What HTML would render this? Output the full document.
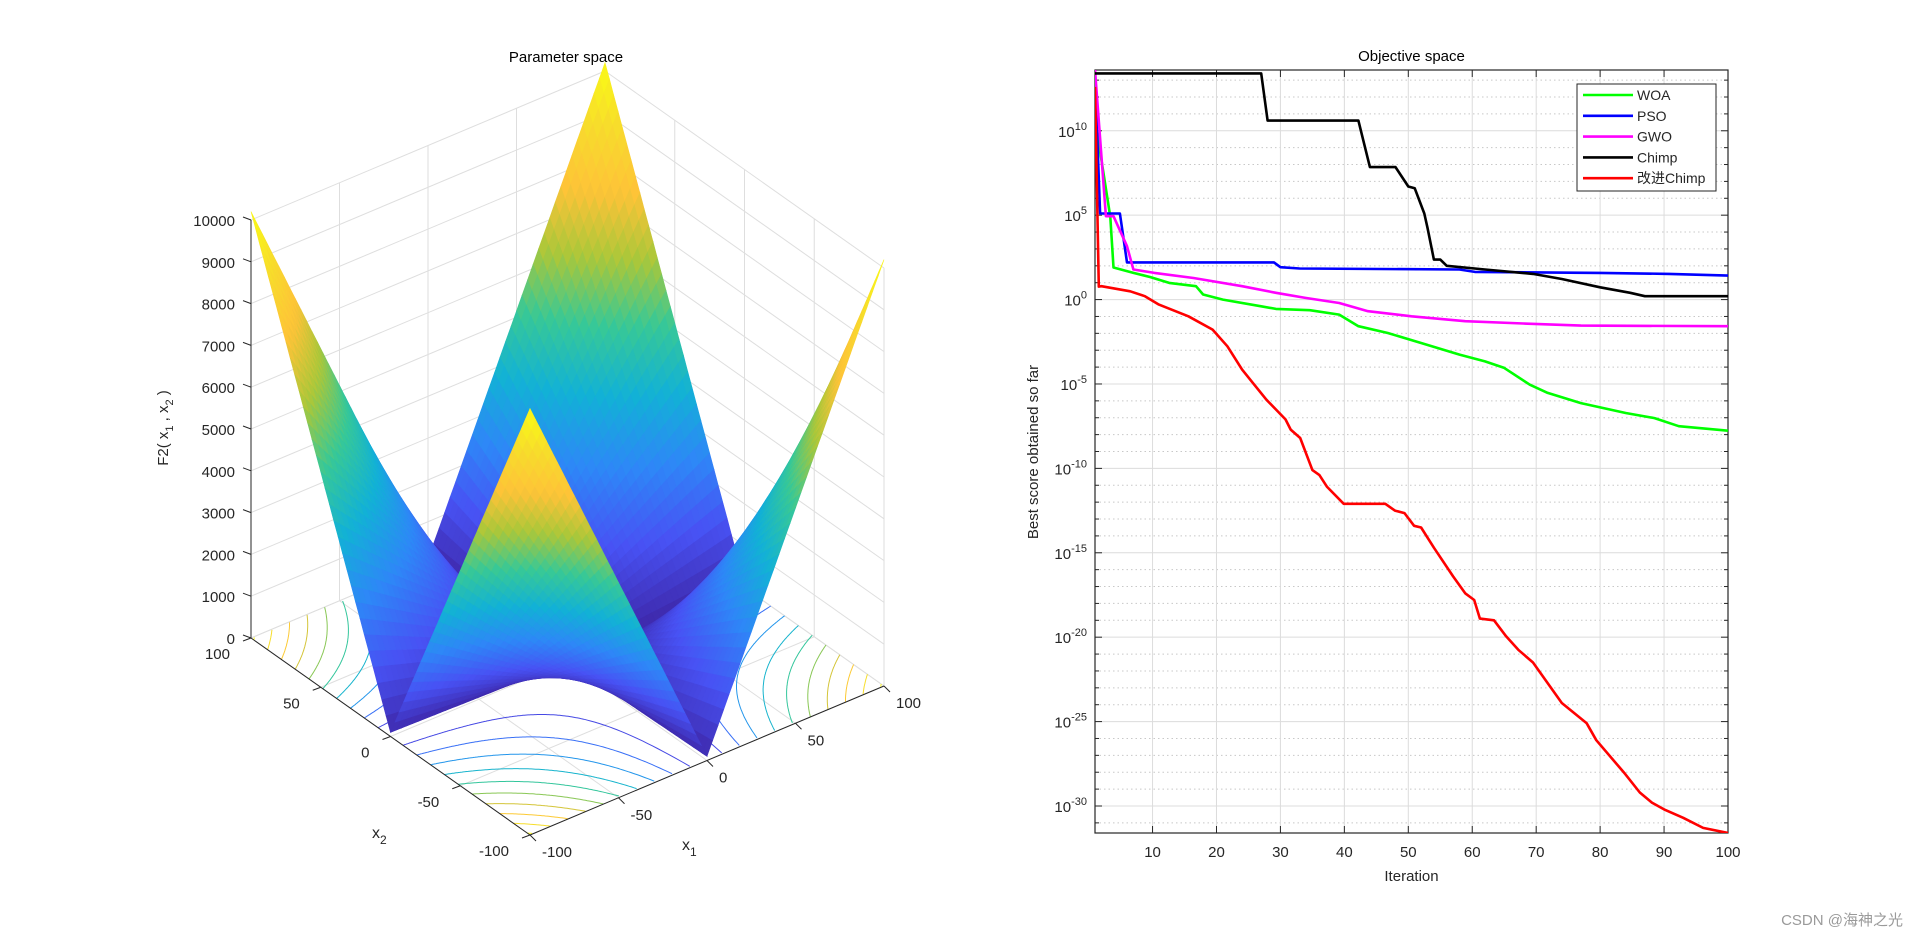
<!DOCTYPE html>
<html><head><meta charset="utf-8">
<style>
html,body{margin:0;padding:0;background:#fff;}
svg{display:block;font-family:"Liberation Sans","Noto Sans CJK SC",sans-serif;}
</style></head>
<body>
<svg id="root" width="1920" height="937" viewBox="0 0 1920 937" xmlns="http://www.w3.org/2000/svg">
<rect x="0" y="0" width="1920" height="937" fill="#fff"/>
<g id="left"></g>
<g id="right"></g>
<text x="1903" y="925" text-anchor="end" font-size="15" fill="#9a9a9a">CSDN @海神之光</text>
</svg>
<script>
// ---------- Objective space data (log10 of best score) ----------
const xTicks = [10,20,30,40,50,60,70,80,90,100];
const yTickExps = [-30,-25,-20,-15,-10,-5,0,5,10];
const seriesNames = ["WOA","PSO","GWO","Chimp","改进Chimp"];
const woaIter = [1,1.5,3.4,3.9,7,9.6,12.6,16.8,17.9,21,27,29.3,34.6,39.2,42.2,46.8,52,58,62,65,69,71.8,77,84,88.5,92.3,100];
const woaLog  = [10.6,9.5,4.9,1.9,1.58,1.34,0.99,0.79,0.3,0,-0.4,-0.55,-0.63,-0.89,-1.58,-1.98,-2.57,-3.26,-3.66,-4.05,-5.04,-5.53,-6.13,-6.72,-7.02,-7.5,-7.77];
const psoIter = [1,1.8,4.9,6,29,30,33,58,60.4,80,90.8,100];
const psoLog  = [13.2,5.1,5.1,2.2,2.2,1.92,1.84,1.78,1.64,1.58,1.52,1.42];
const gwoIter = [1,2.7,3.9,6,7,10.3,16.4,24,29.3,33.9,39.2,43.7,50.5,58.9,68,77,100];
const gwoLog  = [13.6,4.94,4.94,3.16,1.78,1.58,1.28,0.79,0.4,0.1,-0.2,-0.69,-0.99,-1.28,-1.42,-1.54,-1.58];
const chimpIter = [1,27,28,42.2,44,48,50,51,52.5,53,54,55,56,62,69.5,74,80,84.7,87,100];
const chimpLog  = [13.4,13.4,10.6,10.6,7.85,7.85,6.7,6.6,5.1,4.25,2.37,2.37,2.0,1.78,1.52,1.22,0.73,0.4,0.2,0.2];
const impIter = [1,1.6,2,6.5,8.8,11,15.6,19.4,21.7,24,27.8,30.8,31.6,33.1,35,36.1,37.3,39.9,46.4,47.9,49.4,50.9,52,54,57,58.9,60.3,61.2,63.4,65.3,67.2,69.5,74,77.9,79.4,83.9,86.2,88.1,90,93,96.1,100];
const impLog  = [12.6,0.77,0.79,0.49,0.2,-0.3,-0.99,-1.78,-2.77,-4.15,-5.93,-7.1,-7.7,-8.2,-10.1,-10.4,-11.1,-12.1,-12.1,-12.5,-12.65,-13.4,-13.5,-14.7,-16.4,-17.4,-17.8,-18.9,-19,-19.95,-20.75,-21.5,-23.9,-25.1,-26.1,-28.1,-29.2,-29.8,-30.2,-30.7,-31.3,-31.6];

// ---------- Parameter space data ----------
const zTicks = [0,1000,2000,3000,4000,5000,6000,7000,8000,9000,10000];
const x1Ticks = [-100,-50,0,50,100];
const x2Ticks = [-100,-50,0,50,100];
const contourLevels = [1000,2000,3000,4000,5000,6000,7000,8000,9000,10000];

const NS="http://www.w3.org/2000/svg";
function mk(tag, attrs, parent){const e=document.createElementNS(NS,tag);for(const k in attrs)e.setAttribute(k,attrs[k]);if(parent)parent.appendChild(e);return e;}

// ===== Objective space =====
(function(){
 const g=document.getElementById('right');
 const L=1095,R=1728,T=70,B=833;
 const yTop=13.6,yBot=-31.6;
 const X=i=>L+(i-1)/(99)*(R-L);
 const Y=v=>T+(yTop-v)/(yTop-yBot)*(B-T);
 // minor dotted grid
 for(let e=Math.ceil(yBot);e<=Math.floor(yTop);e++){
  if(e%5===0)continue;
  const l=mk('line',{x1:L,x2:R,y1:Y(e),y2:Y(e),stroke:'#c8c8c8','stroke-width':1,'stroke-dasharray':'1.5,3'},g);
  
  
  const t1=mk('line',{x1:L,x2:L+4,y1:Y(e),y2:Y(e),stroke:'#262626'},g);
  
  
  const t2=mk('line',{x1:R-4,x2:R,y1:Y(e),y2:Y(e),stroke:'#262626'},g);
  
  
 }
 yTickExps.forEach(e=>{
  const l=mk('line',{x1:L,x2:R,y1:Y(e),y2:Y(e),stroke:'#dcdcdc','stroke-width':1},g);
  
  
  const tk=mk('line',{x1:L,x2:L+7,y1:Y(e),y2:Y(e),stroke:'#262626'},g);
  
  
  const tk2=mk('line',{x1:R-7,x2:R,y1:Y(e),y2:Y(e),stroke:'#262626'},g);
  
  
  const t=mk('text',{x:1087,y:Y(e)+6,'text-anchor':'end','font-size':15,fill:'#262626'},g);
  
  
  const a=mk('tspan',{},t);a.textContent='10';
  const b=mk('tspan',{dy:-7,'font-size':11},t);b.textContent=String(e);
 });
 xTicks.forEach(v=>{
  const l=mk('line',{x1:X(v),x2:X(v),y1:T,y2:B,stroke:'#dcdcdc'},g);
  
  
  const tk=mk('line',{x1:X(v),x2:X(v),y1:B,y2:B-7,stroke:'#262626'},g);
  
  
  const tk2=mk('line',{x1:X(v),x2:X(v),y1:T,y2:T+7,stroke:'#262626'},g);
  
  
  const t=mk('text',{x:X(v),y:857,'text-anchor':'middle','font-size':15,fill:'#262626'},g);
  
  
  t.textContent=String(v);
 });
 const box=mk('rect',{x:L,y:T,width:R-L,height:B-T,fill:'none',stroke:'#262626','stroke-width':1.2},g);
 
 
 const defs=mk('defs',{},g);
 const cp=mk('clipPath',{id:'rc'},defs);
 mk('rect',{x:L,y:T,width:R-L,height:B-T},cp);
 const series=[[woaIter,woaLog,'#00ff00','woa-line'],[psoIter,psoLog,'#0000ff','pso-line'],[gwoIter,gwoLog,'#ff00ff','gwo-line'],[chimpIter,chimpLog,'#000000','chimp-line'],[impIter,impLog,'#ff0000','improved-chimp-line']];
 series.forEach(s=>{
  const d=s[0].map((it,k)=>(k?'L':'M')+X(it).toFixed(1)+','+Y(s[1][k]).toFixed(1)).join(' ');
  const p=mk('path',{d:d,fill:'none',stroke:s[2],'stroke-width':2.6,'stroke-linejoin':'round','clip-path':'url(#rc)'},g);
  
  
 });
 // legend
 const lg=mk('g',{},g);
 
 
 mk('rect',{x:1577,y:84,width:139,height:107,fill:'#fff',stroke:'#262626','stroke-width':1},lg);
 const cols=['#00ff00','#0000ff','#ff00ff','#000000','#ff0000'];
 seriesNames.forEach((n,k)=>{
  const y=95+k*20.8;
  const e=mk('g',{},lg);
  
  
  mk('line',{x1:1583,x2:1633,y1:y,y2:y,stroke:cols[k],'stroke-width':2.6},e);
  const t=mk('text',{x:1637,y:y+5,'font-size':14,fill:'#262626'},e);t.textContent=n;
 });
 const ti=mk('text',{x:(L+R)/2,y:61,'text-anchor':'middle','font-size':15,fill:'#000'},g);
 
 
 ti.textContent='Objective space';
 const xl=mk('text',{x:(L+R)/2,y:881,'text-anchor':'middle','font-size':15,fill:'#262626'},g);
 
 
 xl.textContent='Iteration';
 const yl=mk('text',{x:0,y:0,'text-anchor':'middle','font-size':15,fill:'#262626',transform:'translate(1038,452) rotate(-90)'},g);
 
 
 yl.textContent='Best score obtained so far';
})();

// ===== Parameter space =====
(function(){
 const g=document.getElementById('left');
 const C=[567.5,662], A=[1.77,-0.745], Bv=[-1.395,-0.985], cz=-0.0418;
 const P=(x1,x2,z)=>[C[0]+A[0]*x1+Bv[0]*x2, C[1]+A[1]*x1+Bv[1]*x2+cz*z];
 const F=(x1,x2)=>Math.abs(x1)+Math.abs(x2)+Math.abs(x1*x2);
 const par=[[0,[62,39,168]],[0.125,[72,82,244]],[0.25,[46,135,247]],[0.375,[18,177,214]],[0.5,[55,200,151]],[0.625,[171,199,57]],[0.75,[254,195,56]],[0.875,[247,220,44]],[1,[249,251,21]]];
 const col=t=>{t=Math.max(0,Math.min(1,t));for(let i=1;i<par.length;i++){if(t<=par[i][0]){const a=par[i-1],b=par[i],f=(t-a[0])/(b[0]-a[0]);return 'rgb('+a[1].map((v,k)=>Math.round(v+(b[1][k]-v)*f)).join(',')+')';}}return 'rgb(249,251,21)';};
 const zmax=10200;
 const grid='#dedede';
 const line=(p,q,st,w,name)=>{const l=mk('line',{x1:p[0],y1:p[1],x2:q[0],y2:q[1],stroke:st,'stroke-width':w||1},g);return l;};
 // back wall grids (x2=100 wall and x1=100 wall) and floor grid
 zTicks.forEach(z=>{line(P(-100,100,z),P(100,100,z),grid,1,'z-grid-line');line(P(100,100,z),P(100,-100,z),grid,1,'z-grid-line');});
 x1Ticks.forEach(v=>{line(P(v,100,0),P(v,100,10000),grid,1,'x1-grid-line');line(P(v,-100,0),P(v,100,0),grid,1,'x1-floor-grid-line');});
 x2Ticks.forEach(v=>{line(P(100,v,0),P(100,v,10000),grid,1,'x2-grid-line');line(P(-100,v,0),P(100,v,0),grid,1,'x2-floor-grid-line');});
 // contours on floor
 contourLevels.forEach(Lv=>{
  [[1,1],[1,-1],[-1,1],[-1,-1]].forEach(sg=>{
   let pts=[];
   for(let k=0;k<=200;k++){
    const ax=k*0.5; const ay=(Lv-ax)/(1+ax);
    if(ay<0||ay>100){continue;}
    const p=P(sg[0]*ax,sg[1]*ay,0);pts.push(p[0].toFixed(1)+','+p[1].toFixed(1));
   }
   if(pts.length>1){const pl=mk('polyline',{points:pts.join(' '),fill:'none',stroke:col(Lv/zmax),'stroke-width':1},g);
    
    }
  });
 });
 // surface
 const N=64, st=200/N, quads=[];
 for(let i=0;i<N;i++)for(let j=0;j<N;j++){
  const x1a=-100+i*st,x1b=x1a+st,x2a=-100+j*st,x2b=x2a+st;
  const zs=[F(x1a,x2a),F(x1b,x2a),F(x1b,x2b),F(x1a,x2b)];
  const cx=(x1a+x1b)/2, cy=(x2a+x2b)/2;
  quads.push({d:-1.395*cx-1.745*cy, pts:[P(x1a,x2a,zs[0]),P(x1b,x2a,zs[1]),P(x1b,x2b,zs[2]),P(x1a,x2b,zs[3])], z:(zs[0]+zs[1]+zs[2]+zs[3])/4});
 }
 quads.sort((a,b)=>a.d-b.d);
 const sg=mk('g',{},g);
 
 
 quads.forEach(q=>{const c=col(q.z/zmax);mk('polygon',{points:q.pts.map(p=>p[0].toFixed(1)+','+p[1].toFixed(1)).join(' '),fill:c,stroke:c,'stroke-width':0.6},sg);});
 // axes lines
 line(P(-100,100,0),P(-100,100,10000),'#262626',1,'z-axis-line');
 line(P(-100,100,0),P(-100,-100,0),'#262626',1,'x2-axis-line');
 line(P(-100,-100,0),P(100,-100,0),'#262626',1,'x1-axis-line');
 zTicks.forEach(z=>{const p=P(-100,100,z);
  line(p,[p[0]-8,p[1]-3],'#262626',1,'z-tick');
  const t=mk('text',{x:p[0]-16,y:p[1]+6,'text-anchor':'end','font-size':15,fill:'#262626'},g);
  
  
  t.textContent=String(z);});
 x2Ticks.forEach(v=>{const p=P(-100,v,0);
  line(p,[p[0]-8,p[1]+3],'#262626',1,'x2-tick');
  const t=mk('text',{x:p[0]-21,y:p[1]+21,'text-anchor':'end','font-size':15,fill:'#262626'},g);
  
  
  t.textContent=String(v);});
 x1Ticks.forEach(v=>{const p=P(v,-100,0);
  line(p,[p[0]+6,p[1]+6],'#262626',1,'x1-tick');
  const t=mk('text',{x:p[0]+12,y:p[1]+22,'text-anchor':'start','font-size':15,fill:'#262626'},g);
  
  
  t.textContent=String(v);});
 const ti=mk('text',{x:566,y:62,'text-anchor':'middle','font-size':15,fill:'#000'},g);
 
 
 ti.textContent='Parameter space';
 const lab=(x,y,main,sub,name)=>{const t=mk('text',{x:x,y:y,'font-size':16,fill:'#262626'},g);const a=mk('tspan',{},t);a.textContent=main;const b=mk('tspan',{dy:6,'font-size':12},t);b.textContent=sub;};
 lab(372,838,'x','2','x2-axis-title');
 lab(682,850,'x','1','x1-axis-title');
 const zl=mk('text',{x:0,y:0,'text-anchor':'middle','font-size':15,fill:'#262626',transform:'translate(168,428) rotate(-90)'},g);
 
 
 const parts=[['F2( x',0],['1',1],[' , x',0],['2',1],[' )',0]];
 parts.forEach(pp=>{const s=mk('tspan',pp[1]?{'font-size':11,dy:5}:{dy:0},zl);if(!pp[1]&&zl.childNodes.length>1)s.setAttribute('dy',-5);s.textContent=pp[0];});
})();
</script>
</body></html>
